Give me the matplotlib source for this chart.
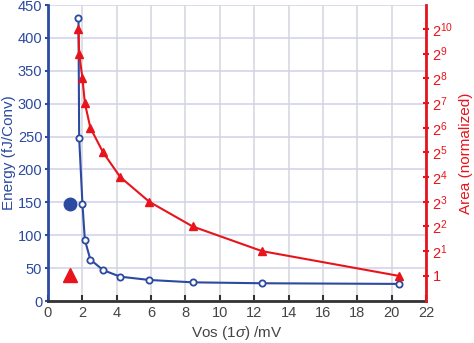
import matplotlib
matplotlib.use("Agg")
import matplotlib.pyplot as plt
import numpy as np

plt.rcParams['font.family'] = ['Liberation Sans', 'DejaVu Sans']
plt.rcParams['mathtext.fontset'] = 'custom'
plt.rcParams['mathtext.rm'] = 'Liberation Sans'
plt.rcParams['mathtext.it'] = 'Liberation Sans:italic'

# Offset voltage sweep
vos = [1.78, 1.82, 2.01, 2.15, 2.47, 3.21, 4.21, 5.9, 8.42, 12.46, 20.4]
energy = [430, 248, 148, 93, 63, 47, 37, 32, 28.4, 27, 26]
area_log2 = [10, 9, 8, 7, 6, 5, 4, 3, 2, 1, 0]

# Single highlighted design point
ref_vos = 1.27
ref_energy = 148
ref_area_log2 = 0.05

x_ticks = list(range(0, 23, 2))
y_ticks = list(range(0, 451, 50))
area_ticks_log2 = list(range(0, 11))

BLUE = '#2b4aa0'
RED = '#e8141c'
GRID_H = '#d4d4ec'
GRID_V = '#d8d8e0'

fig = plt.figure(figsize=(4.74, 3.43), dpi=100)
ax = fig.add_axes([0.101, 0.1224, 0.798, 0.863])

ax.set_xlim(0, 22)
ax.set_ylim(0, 450)
ax.set_xticks(x_ticks)
ax.set_yticks(y_ticks)
ax.grid(True, axis='y', color=GRID_H, lw=1.2)
ax.grid(True, axis='x', color=GRID_V, lw=1.2)
ax.set_axisbelow(True)

ax.plot(vos, energy, color=BLUE, lw=1.5, marker='o', ms=4.5,
        mfc='white', mec=BLUE, mew=1.3, zorder=3)
ax.plot([ref_vos], [ref_energy], 'o', color=BLUE, ms=9, zorder=3)

ax.spines['top'].set_visible(False)
ax.spines['right'].set_visible(False)
ax.spines['left'].set_color(BLUE)
ax.spines['left'].set_linewidth(2)
ax.spines['bottom'].set_color('#333333')
ax.spines['bottom'].set_linewidth(2)
ax.tick_params(axis='y', colors=BLUE, labelsize=10.5, direction='out', length=2.5,
               width=1.5, pad=1.5)
ax.tick_params(axis='x', colors='#333333', labelcolor='#444444', labelsize=10.5,
               direction='in', length=4, width=1.5)
ax.set_ylabel('Energy (fJ/Conv)', color=BLUE, fontsize=11, labelpad=1)
ax.set_xlabel(r'Vos (1$\it{\sigma}$) /mV', color='#444444', fontsize=11, labelpad=3)

ax2 = ax.twinx()
ax2.set_ylim(-1.02, 10.97)
ax2.set_yticks(area_ticks_log2)
ax2.set_yticklabels(['1'] + [r'$\mathregular{2^{%d}}$' % k for k in area_ticks_log2[1:]])
ax2.plot(vos, area_log2, color=RED, lw=1.5, marker='^', ms=6,
         mfc=RED, mec=RED, zorder=3)
ax2.plot([ref_vos], [ref_area_log2], '^', color=RED, ms=10, zorder=3)
for s in ['top', 'left', 'bottom']:
    ax2.spines[s].set_visible(False)
ax2.spines['right'].set_color(RED)
ax2.spines['right'].set_linewidth(2)
ax2.tick_params(axis='y', colors=RED, labelsize=10.5, direction='inout', length=5,
                width=1.5, pad=2)
ax2.set_ylabel('Area (normalized)', color=RED, fontsize=11, labelpad=4)

fig.savefig('out.png', dpi=100)
